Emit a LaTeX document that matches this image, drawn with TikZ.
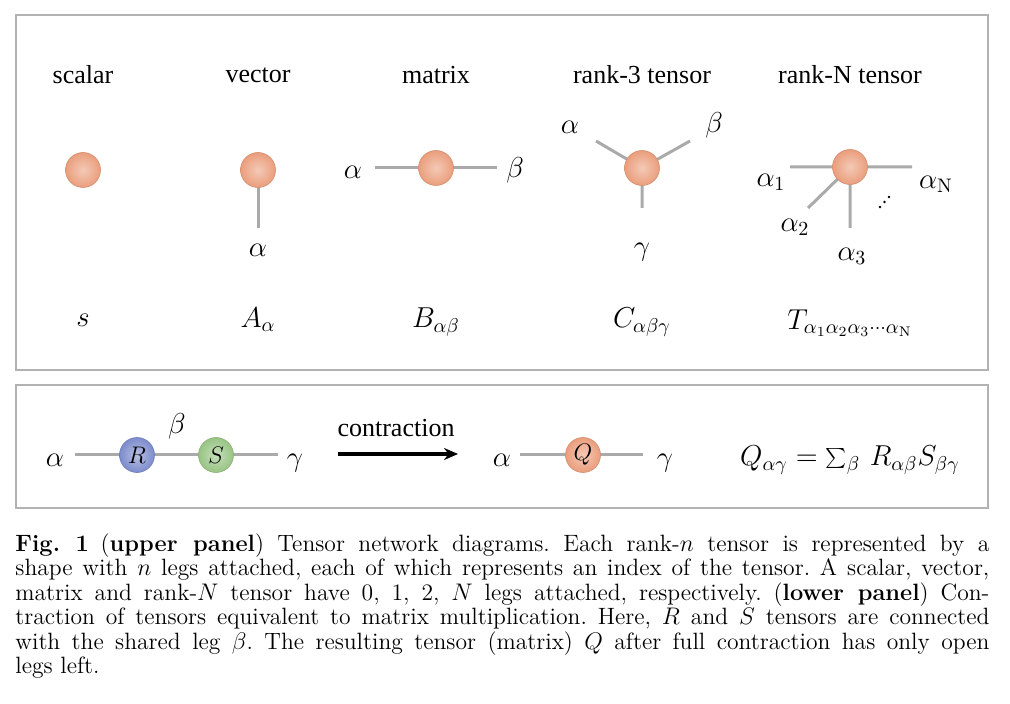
\documentclass[tikz,border=0pt]{standalone}
\usepackage{fontspec}
\newfontfamily\lab{Liberation Serif}
\usetikzlibrary{arrows.meta}
\definecolor{orn}{RGB}{234,158,124}
\definecolor{rbl}{RGB}{124,140,204}
\definecolor{sgr}{RGB}{152,196,132}
\definecolor{leg}{RGB}{170,170,170}
\begin{document}
\begin{tikzpicture}[x=0.5pt,y=-0.5pt,
  t/.style={circle,minimum size=17.5pt,inner sep=0pt,draw=#1!90!black,line width=0.3pt,inner color=#1!55!white,outer color=#1},
  ten/.style={t=orn},
  lg/.style={draw=leg,line width=1.5pt},
  lb/.style={font=\fontsize{14}{16}\selectfont,inner sep=1pt},
  ttl/.style={font=\lab\fontsize{13}{15}\selectfont},
  box/.style={draw=black!30,line width=0.8pt}]
\useasboundingbox (0,0) rectangle (1010,704);
\draw[box] (16,15) rectangle (988,370);
\draw[box] (16,385) rectangle (988,508);
% titles
\node[ttl] (h1) at (83,75) {scalar};
\node[ttl] (h2) at (258,75) {vector};
\node[ttl] (h3) at (436,75) {matrix};
\node[ttl] (h4) at (642,75) {rank-3 tensor};
\node[ttl] (h5) at (850,75) {rank-N tensor};
% scalar
\node[ten] (s) at (83,170) {};
\node[lb] (ls) at (83,320) {$s$};
% vector
\coordinate (v1) at (258,228);
\draw[lg] (258,170) -- (v1);
\node[ten] (v) at (258,170) {};
\node[lb] (va) at (258,250) {$\alpha$};
\node[lb] (lv) at (258,320) {$A_\alpha$};
% matrix
\coordinate (m1) at (375,168); \coordinate (m2) at (497,168);
\draw[lg] (m1) -- (m2);
\node[ten] (m) at (436,168) {};
\node[lb] (ma) at (353,172) {$\alpha$};
\node[lb] (mb) at (515,170) {$\beta$};
\node[lb] (lm) at (436,322) {$B_{\alpha\beta}$};
% rank 3
\coordinate (c1) at (596,141); \coordinate (c2) at (690,141); \coordinate (c3) at (642,208);
\draw[lg] (642,168) -- (c1) (642,168) -- (c2) (642,168) -- (c3);
\node[ten] (c) at (642,168) {};
\node[lb] (ca) at (570,127) {$\alpha$};
\node[lb] (cb) at (714,125) {$\beta$};
\node[lb] (cg) at (642,252) {$\gamma$};
\node[lb] (lc) at (642,322) {$C_{\alpha\beta\gamma}$};
% rank N
\coordinate (n1) at (790,167); \coordinate (n2) at (912,167);
\coordinate (n3) at (808,208); \coordinate (n4) at (850,228);
\draw[lg] (850,167) -- (n1) (850,167) -- (n2) (850,167) -- (n3) (850,167) -- (n4);
\node[ten] (n) at (850,167) {};
\node[lb] (na1) at (771,182) {$\alpha_1$};
\node[lb] (naN) at (936,184) {$\alpha_{\mathrm{N}}$};
\node[lb] (na2) at (795,227) {$\alpha_2$};
\node[lb] (na3) at (852,256) {$\alpha_3$};
\fill (880,207) circle (0.7pt) (884.5,202) circle (0.7pt) (889,197) circle (0.7pt);
\node[lb] (ln) at (850,323) {$T_{\alpha_1\alpha_2\alpha_3\cdots\alpha_{\mathrm{N}}}$};
% lower
\coordinate (r0) at (75,455); \coordinate (r3) at (278,455);
\draw[lg] (r0) -- (r3);
\node[t=rbl] (R) at (137,455) {\large$R$};
\node[t=sgr] (S) at (216,455) {\large$S$};
\node[lb] (la) at (55,460) {$\alpha$};
\node[lb] (lbe) at (177,426) {$\beta$};
\node[lb] (lg1) at (295,463) {$\gamma$};
\coordinate (a0) at (338,454); \coordinate (a1) at (458,454);
\draw[line width=1.6pt,-{Stealth[length=7pt,width=6pt]}] (a0) -- (a1);
\node[ttl] (ct) at (396,428) {contraction};
\coordinate (q0) at (520,455); \coordinate (q1) at (643,455);
\draw[lg] (q0) -- (q1);
\node[ten] (Q) at (583,455) {\large$Q$};
\node[lb] (qa) at (502,460) {$\alpha$};
\node[lb] (qg) at (665,463) {$\gamma$};
\node[lb] (eq) at (850,460) {$Q_{\alpha\gamma}=\sum_\beta\, R_{\alpha\beta}S_{\beta\gamma}$};
% caption
\node[anchor=north west,inner sep=0pt,text width=487pt,align=justify,font=\fontsize{11.8}{12.25}\selectfont\frenchspacing] (cap) at (15,533)
{\textbf{Fig.~1}\enspace(\textbf{upper panel}) Tensor network diagrams. Each rank-$n$ tensor is represented by a\linebreak shape with $n$ legs attached, each of which represents an index of the tensor. A scalar, vector,\linebreak matrix and rank-$N$ tensor have 0, 1, 2, $N$ legs attached, respectively. (\textbf{lower panel}) Con-\linebreak traction of tensors equivalent to matrix multiplication. Here, $R$ and $S$ tensors are connected\linebreak with the shared leg $\beta$. The resulting tensor (matrix) $Q$ after full contraction has only open\linebreak legs left.};
\end{tikzpicture}
\end{document}
